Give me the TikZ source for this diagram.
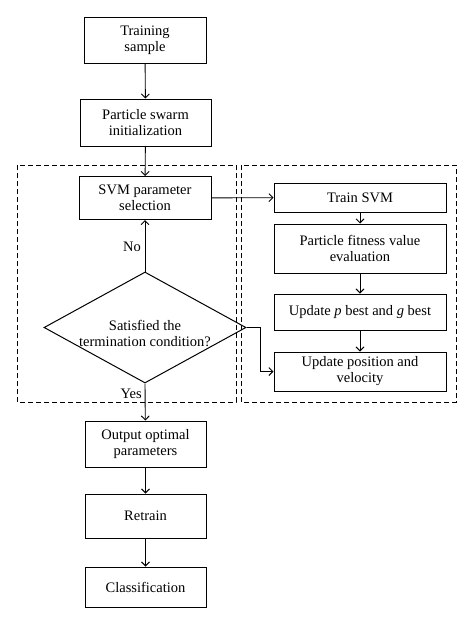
\documentclass[tikz,border=0pt]{standalone}
\usepackage{fontspec}
\setmainfont{Liberation Serif}
\usetikzlibrary{arrows.meta,shapes.geometric}
\begin{document}
\begin{tikzpicture}[x=1pt,y=-1pt,
  box/.style={draw,line width=1pt,align=center,inner sep=0pt,font=\fontsize{14.5}{16}\selectfont},
  grp/.style={draw,line width=1pt,dash pattern=on 5pt off 3pt},
  arr/.style={line width=0.9pt,-{Straight Barb[length=4pt,width=8pt]}},
  lbl/.style={font=\fontsize{14.5}{16}\selectfont}]
\useasboundingbox (0,0) rectangle (474,624);
\node[box,minimum width=122pt,minimum height=46pt] (ts) at (145,40) {Training\\sample};
\node[box,minimum width=131pt,minimum height=47pt] (psi) at (145.5,122.5) {Particle swarm\\initialization};
\node[box,minimum width=132pt,minimum height=43pt] (svm) at (145,198) {SVM parameter\\selection};
\node[box,minimum width=172pt,minimum height=29pt] (train) at (360,197.5) {Train SVM};
\node[box,minimum width=172pt,minimum height=49pt] (fit) at (360,248.5) {Particle fitness value\\evaluation};
\node[box,minimum width=172pt,minimum height=36pt] (upd) at (360,312) {Update \textit{p} best and \textit{g} best};
\node[box,minimum width=172pt,minimum height=39pt] (pos) at (360,371.5) {Update position and\\velocity};
\node[box,diamond,aspect=1.82,minimum width=202pt,minimum height=111pt] (dec) at (145,327.5) {};
\node[lbl,align=center] (dect) at (145,333) {Satisfied the\\termination condition?};
\node[box,minimum width=121pt,minimum height=46pt] (out) at (145.5,444) {Output optimal\\parameters};
\node[box,minimum width=121pt,minimum height=44pt] (ret) at (145.5,516) {Retrain};
\node[box,minimum width=121pt,minimum height=40pt] (cls) at (145.5,587) {Classification};
\node[lbl] (no) at (132,247) {No};
\node[lbl,anchor=east,inner sep=1pt] (yes) at (143,394) {Yes};
\coordinate (g1a) at (17,165); \coordinate (g1b) at (236,402);
\coordinate (g2a) at (241,165); \coordinate (g2b) at (456,402);
\draw[grp] (g1a) rectangle (g1b);
\draw[grp] (g2a) rectangle (g2b);
\draw[arr] (ts) -- (psi);
\draw[arr] (psi) -- (svm);
\draw[arr] (svm) -- (train);
\draw[arr] (train) -- (fit);
\draw[arr] (fit) -- (upd);
\draw[arr] (upd) -- (pos);
\draw[arr] (dec.north) -- (svm);
\draw[arr] (dec.east) -- ++(14,0) |- (pos.west);
\draw[arr] (dec.south) -- (out);
\draw[arr] (out) -- (ret);
\draw[arr] (ret) -- (cls);
\end{tikzpicture}
\end{document}
